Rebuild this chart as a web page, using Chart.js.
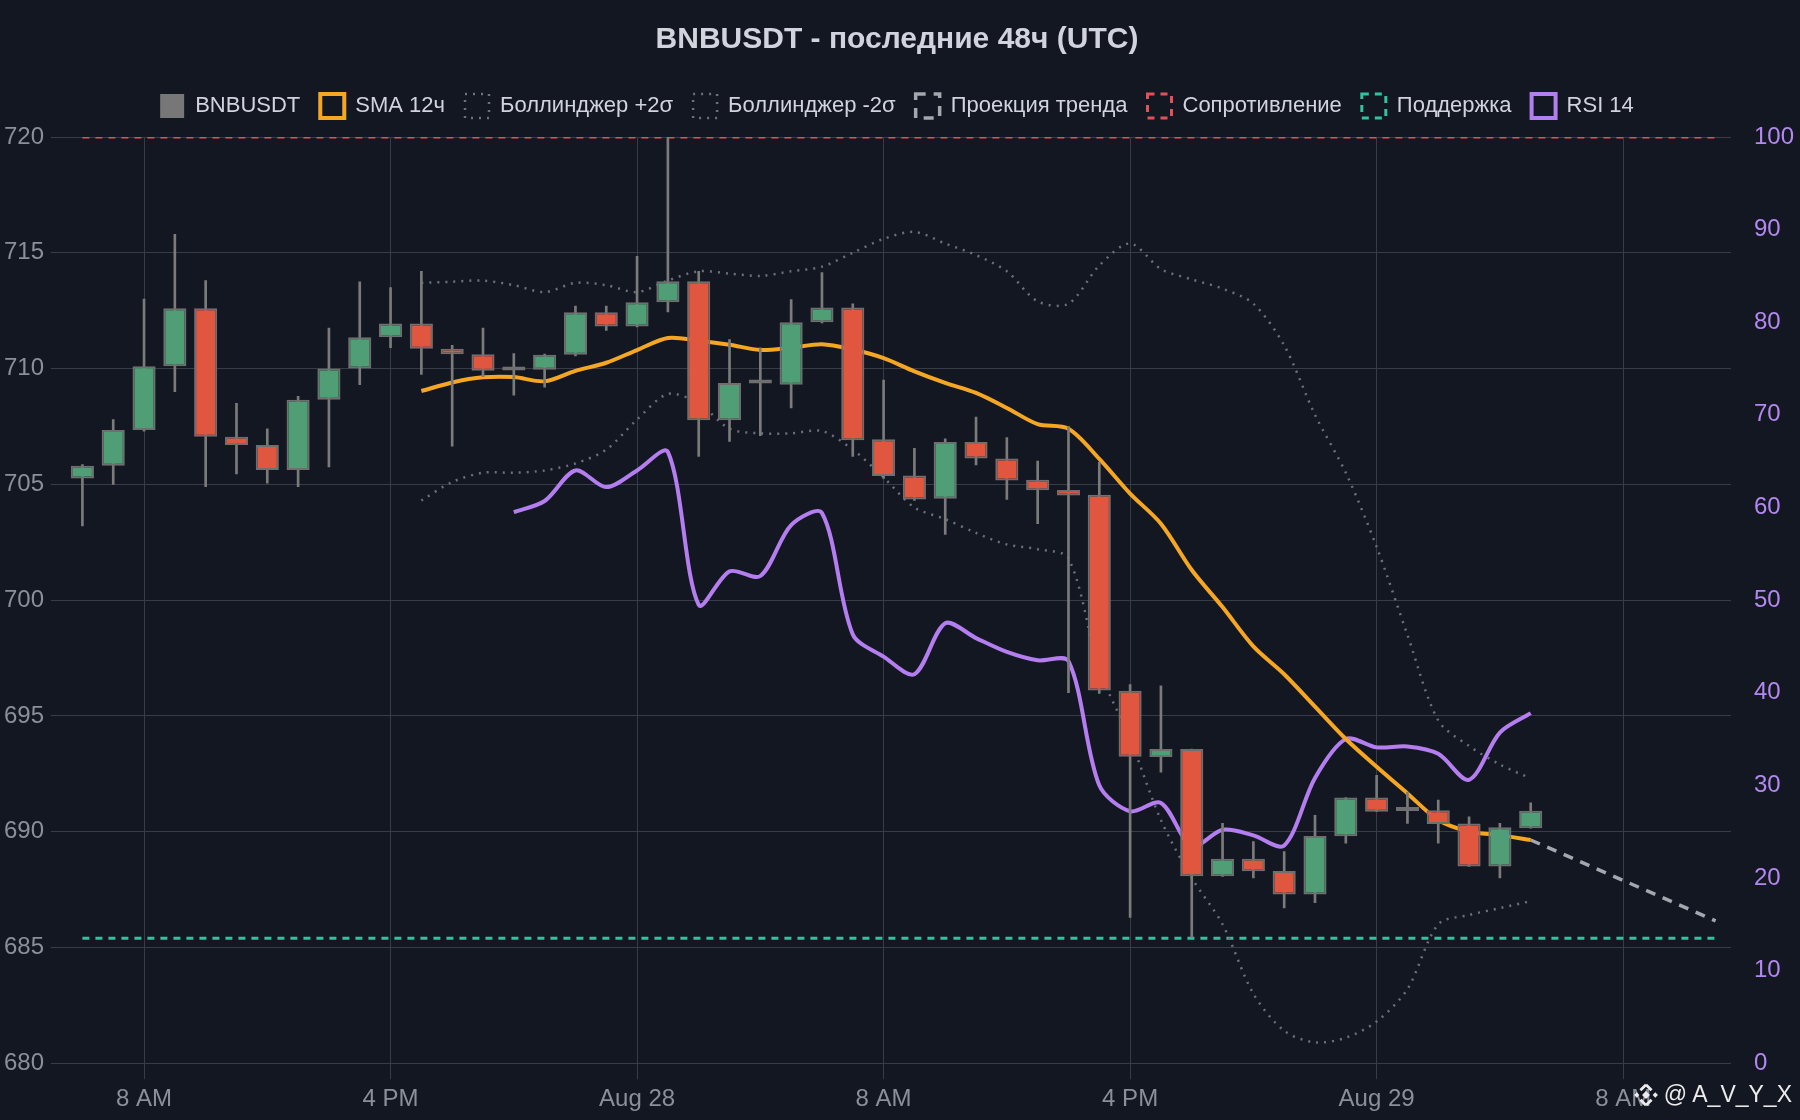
<!DOCTYPE html>
<html lang="ru">
<head>
    <meta charset="UTF-8">
    <title>BNBUSDT - последние 48ч</title>
    <script src="https://cdn.jsdelivr.net/npm/chart.js@4.4.1/dist/chart.umd.min.js"></script>
    <style>
        html, body { margin: 0; padding: 0; background: #131722; }
        .wrap { position: relative; width: 1800px; height: 1120px; }
        .mark {
            position: absolute; right: 8px; bottom: 12px;
            display: flex; align-items: center; gap: 5px;
            color: #ececec; font: 23px "Liberation Sans", Arial, sans-serif;
        }
    </style>
</head>
<body>
<div class="wrap">
    <canvas id="chart"></canvas>
    <div class="mark">
        <svg width="26" height="26" viewBox="0 0 28 28">
            <g fill="none" stroke="#ececec" stroke-width="3">
                <path d="M14 3 L20 9 M14 3 L8 9 M14 25 L20 19 M14 25 L8 19"/>
            </g>
            <g fill="#ececec">
                <rect x="11" y="11" width="6" height="6" transform="rotate(45 14 14)"/>
                <rect x="2" y="12" width="4" height="4" transform="rotate(45 4 14)"/>
                <rect x="22" y="12" width="4" height="4" transform="rotate(45 24 14)"/>
            </g>
        </svg>
        <span>@ A_V_Y_X</span>
    </div>
</div>

<script>
    // Свечи по часам, начиная с 27 авг 06:00 UTC (индекс = час)
    const opens  = [705.25, 705.8, 707.35, 710.1, 712.6, 707.05, 706.7, 705.62, 708.65, 710.0,
                    711.35, 711.95, 710.85, 710.62, 709.92, 709.95, 710.6, 712.43, 711.82, 712.86,
                    713.77, 707.77, 709.35, 709.3, 712.0, 712.64, 706.95, 705.38, 704.38, 706.83,
                    706.11, 705.2, 704.75, 704.55, 696.08, 693.22, 693.57, 688.07, 688.83, 688.3,
                    687.29, 689.8, 691.47, 690.89, 690.92, 690.35, 688.5, 690.15];
    const highs  = [705.85, 707.8, 713.0, 715.8, 713.8, 708.5, 707.4, 708.8, 711.75, 713.75,
                    713.5, 714.2, 711.0, 711.75, 710.65, 710.62, 712.7, 712.7, 714.85, 720.0,
                    714.2, 711.25, 710.9, 712.98, 714.15, 712.8, 709.5, 706.55, 706.97, 707.9,
                    707.02, 706.0, 707.5, 705.95, 696.35, 696.3, 693.57, 690.36, 689.57, 689.14,
                    690.71, 691.47, 692.43, 691.71, 691.36, 690.64, 690.36, 691.24];
    const lows   = [703.2, 705.0, 707.3, 709.0, 704.9, 705.45, 705.05, 704.9, 705.75, 709.3,
                    710.9, 709.75, 706.65, 709.65, 708.85, 709.2, 710.55, 711.65, 711.8, 712.45,
                    706.2, 706.85, 707.1, 708.3, 711.97, 706.2, 705.25, 704.3, 702.84, 705.84,
                    704.35, 703.3, 696.0, 695.97, 686.3, 692.57, 685.43, 688.07, 688.0, 686.71,
                    686.93, 689.5, 690.86, 690.36, 689.5, 688.5, 688.0, 690.15];
    const closes = [705.8, 707.35, 710.1, 712.6, 707.05, 706.7, 705.62, 708.65, 710.0, 711.35,
                    711.95, 710.85, 710.62, 709.9, 709.92, 710.6, 712.43, 711.82, 712.86, 713.77,
                    707.77, 709.38, 709.35, 712.0, 712.64, 706.9, 705.36, 704.35, 706.83, 706.11,
                    705.17, 704.74, 704.52, 696.1, 693.24, 693.57, 688.07, 688.83, 688.29, 687.29,
                    689.81, 691.47, 690.86, 690.89, 690.33, 688.5, 690.19, 690.9];

    // Индикаторы, SMA и полосы начинаются с часа 11, RSI с часа 14
    const smaStart = 11;
    const sma12   = [709.03, 709.4, 709.62, 709.63, 709.45, 709.9, 710.25, 710.8, 711.32, 711.2,
                     711.03, 710.8, 710.9, 711.05, 710.82, 710.45, 709.88, 709.38, 708.95, 708.3,
                     707.6, 707.4, 706.1, 704.6, 703.3, 701.3, 699.7, 698.0, 696.8, 695.4,
                     694.0, 692.8, 691.65, 690.5, 690.0, 689.85, 689.64];
    const bbUpper = [713.7, 713.75, 713.8, 713.6, 713.3, 713.7, 713.6, 713.3, 713.8, 714.2,
                     714.1, 714.0, 714.2, 714.4, 715.0, 715.6, 715.9, 715.4, 714.9, 714.2,
                     712.9, 712.8, 714.45, 715.4, 714.3, 713.85, 713.45, 712.8, 711.0, 708.0,
                     705.5, 702.3, 698.5, 694.8, 693.7, 692.9, 692.3];
    const bbLower = [704.3, 705.1, 705.5, 705.5, 705.6, 705.9, 706.5, 707.8, 708.9, 708.5,
                     707.4, 707.2, 707.2, 707.3, 706.5, 705.3, 704.0, 703.5, 702.9, 702.4,
                     702.2, 701.8, 697.0, 694.0, 690.5, 688.0, 686.0, 683.0, 681.4, 680.9,
                     681.1, 681.8, 683.2, 686.0, 686.4, 686.7, 687.0];
    const rsiStart = 14;
    const rsi14   = [59.5, 60.7, 64.0, 62.2, 64.0, 66.0, 49.5, 53.1, 52.6, 58.1,
                     59.4, 46.3, 43.9, 42.0, 47.5, 45.9, 44.4, 43.5, 43.4, 30.0,
                     27.2, 28.1, 23.4, 25.2, 24.6, 23.5, 30.8, 35.0, 34.1, 34.2,
                     33.4, 30.6, 35.7, 37.8];

    // Уровни и проекция
    const resistance = 720;
    const support = 685.4;
    const levelSpan = [0, 53];
    const projHours = [47, 53];
    const projValues = [689.64, 686.15];

    // Подписи оси времени
    const tickHours  = [2, 10, 18, 26, 34, 42, 50];
    const tickLabels = ['8 AM', '4 PM', 'Aug 28', '8 AM', '4 PM', 'Aug 29', '8 AM'];

    const GREEN = '#4f9e75';
    const RED = '#e0563f';
    const GRID = '#383c47';
    const TEXT = '#8b8f99';

    const series = (start, vals) => vals.map((v, k) => ({ x: start + k, y: v }));
    const bodyColors = opens.map((o, i) => closes[i] > o ? GREEN : (closes[i] < o ? RED : '#7b7b7b'));

    // немного места под легендой
    const legendGap = {
        id: 'legendGap',
        beforeLayout(chart) {
            const lg = chart.legend;
            if (lg && !lg._gap) {
                const fit = lg.fit;
                lg.fit = function () { fit.call(this); this.height += 9; };
                lg._gap = true;
            }
        }
    };

    const ctx = document.getElementById('chart');
    ctx.width = 1800;
    ctx.height = 1120;

    new Chart(ctx, {
        type: 'bar',
        plugins: [legendGap],
        data: {
            datasets: [
                {
                    label: 'BNBUSDT',
                    data: opens.map((o, i) => ({ x: i, y: [o, closes[i]] })),
                    backgroundColor: bodyColors,
                    borderColor: '#6f6f6f',
                    borderWidth: 2,
                    borderSkipped: false,
                    minBarLength: 4,
                    grouped: false,
                    categoryPercentage: 1,
                    barPercentage: 0.75,
                    order: 0
                },
                {
                    label: 'wicks',
                    data: lows.map((l, i) => ({ x: i, y: [l, highs[i]] })),
                    backgroundColor: '#7b7b7b',
                    borderWidth: 0,
                    grouped: false,
                    barThickness: 2,
                    order: 1
                },
                {
                    type: 'line',
                    label: 'SMA 12ч',
                    data: series(smaStart, sma12),
                    borderColor: '#f5a623',
                    backgroundColor: 'transparent',
                    borderWidth: 4,
                    tension: 0.3,
                    pointRadius: 0,
                    order: 2
                },
                {
                    type: 'line',
                    label: 'Боллинджер +2σ',
                    data: series(smaStart, bbUpper),
                    borderColor: '#6a717e',
                    backgroundColor: 'transparent',
                    borderWidth: 2.5,
                    borderDash: [2, 6],
                    tension: 0.3,
                    pointRadius: 0,
                    order: 3
                },
                {
                    type: 'line',
                    label: 'Боллинджер -2σ',
                    data: series(smaStart, bbLower),
                    borderColor: '#6a717e',
                    backgroundColor: 'transparent',
                    borderWidth: 2.5,
                    borderDash: [2, 6],
                    tension: 0.3,
                    pointRadius: 0,
                    order: 4
                },
                {
                    type: 'line',
                    label: 'Проекция тренда',
                    data: projHours.map((h, k) => ({ x: h, y: projValues[k] })),
                    borderColor: '#a3a7ae',
                    backgroundColor: 'transparent',
                    borderWidth: 3.5,
                    borderDash: [10, 8],
                    pointRadius: 0,
                    order: 5
                },
                {
                    type: 'line',
                    label: 'Сопротивление',
                    data: levelSpan.map(h => ({ x: h, y: resistance })),
                    borderColor: '#e3505a',
                    backgroundColor: 'transparent',
                    borderWidth: 3,
                    borderDash: [7, 6],
                    pointRadius: 0,
                    order: 6
                },
                {
                    type: 'line',
                    label: 'Поддержка',
                    data: levelSpan.map(h => ({ x: h, y: support })),
                    borderColor: '#2ec4a0',
                    backgroundColor: 'transparent',
                    borderWidth: 3,
                    borderDash: [7, 6],
                    pointRadius: 0,
                    order: 7
                },
                {
                    type: 'line',
                    label: 'RSI 14',
                    data: series(rsiStart, rsi14),
                    yAxisID: 'y1',
                    borderColor: '#b57ef0',
                    backgroundColor: 'transparent',
                    borderWidth: 4,
                    tension: 0.3,
                    pointRadius: 0,
                    order: 8
                }
            ]
        },
        options: {
            responsive: false,
            animation: false,
            devicePixelRatio: 1,
            layout: { padding: { left: 0, right: 6, top: 10, bottom: 0 } },
            plugins: {
                title: {
                    display: true,
                    text: 'BNBUSDT - последние 48ч (UTC)',
                    color: '#d1d4dc',
                    font: { size: 30, weight: 'bold' },
                    padding: { top: 12, bottom: 16 }
                },
                legend: {
                    labels: {
                        color: '#d1d4dc',
                        font: { size: 22 },
                        boxWidth: 24,
                        boxHeight: 24,
                        padding: 20,
                        filter: item => item.text !== 'wicks',
                        generateLabels: chart => {
                            const items = Chart.defaults.plugins.legend.labels.generateLabels(chart);
                            items.forEach(it => {
                                if (it.text === 'BNBUSDT') {
                                    it.fillStyle = '#777777';
                                    it.strokeStyle = '#777777';
                                    it.lineWidth = 0;
                                }
                            });
                            return items;
                        }
                    }
                },
                tooltip: { enabled: false }
            },
            scales: {
                x: {
                    type: 'linear',
                    min: -0.5,
                    max: 53.5,
                    offset: false,
                    afterBuildTicks: axis => { axis.ticks = tickHours.map(v => ({ value: v })); },
                    ticks: {
                        color: TEXT,
                        font: { size: 24 },
                        padding: 6,
                        maxRotation: 0,
                        autoSkip: false,
                        callback: v => tickLabels[tickHours.indexOf(v)]
                    },
                    grid: { color: GRID, tickLength: 16, offset: false },
                    border: { display: false }
                },
                y: {
                    position: 'left',
                    min: 680,
                    max: 720,
                    afterFit: axis => { axis.width = 67; },
                    ticks: { stepSize: 5, color: TEXT, font: { size: 24 }, padding: 7 },
                    grid: { color: GRID, tickLength: 16 },
                    border: { display: false }
                },
                y1: {
                    position: 'right',
                    min: 0,
                    max: 100,
                    afterFit: axis => { axis.width = 63; },
                    ticks: { stepSize: 10, color: '#b388f0', font: { size: 24 }, padding: 23 },
                    grid: { display: false, drawTicks: false, tickLength: 0 },
                    border: { display: false }
                }
            }
        }
    });
</script>
</body>
</html>
